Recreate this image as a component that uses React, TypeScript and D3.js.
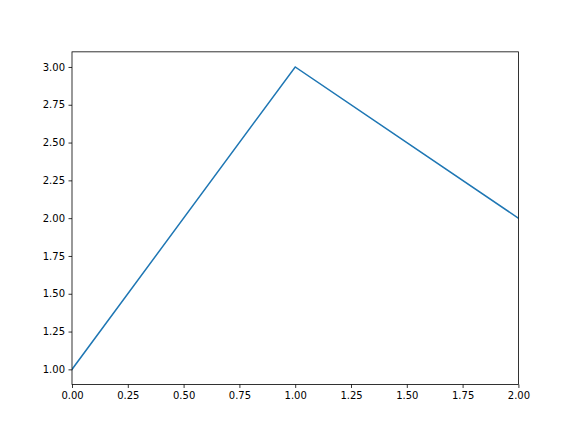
import { useEffect, useRef } from 'react'
import * as d3 from 'd3'

// data
const xValues = [0, 1, 2]
const yValues = [1, 3, 2]
const xTicks = [0, 0.25, 0.5, 0.75, 1, 1.25, 1.5, 1.75, 2]
const yTicks = [1, 1.25, 1.5, 1.75, 2, 2.25, 2.5, 2.75, 3]

export default function App() {
  const svgRef = useRef<SVGSVGElement>(null)

  useEffect(() => {
    if (!svgRef.current) return
    const svg = d3.select(svgRef.current)
    svg.selectAll('*').remove()

    const width = 576
    const height = 432
    const margin = { top: 51.84, right: 57.6, bottom: 47.52, left: 72 }
    const innerWidth = width - margin.left - margin.right
    const innerHeight = height - margin.top - margin.bottom

    svg.append('rect')
      .attr('width', width)
      .attr('height', height)
      .attr('fill', '#ffffff')

    const g = svg.append('g')
      .attr('transform', `translate(${margin.left},${margin.top})`)

    const xScale = d3.scaleLinear().domain([0, 2]).range([0, innerWidth])
    const yScale = d3.scaleLinear().domain([0.9, 3.1]).range([innerHeight, 0])

    const font = 'DejaVu Sans, sans-serif'

    // line
    const points = xValues.map((x, i) => [x, yValues[i]] as [number, number])
    const line = d3.line<[number, number]>()
      .x(d => xScale(d[0]))
      .y(d => yScale(d[1]))

    g.append('clipPath').attr('id', 'plotClip')
      .append('rect').attr('width', innerWidth).attr('height', innerHeight)

    g.append('path')
      .datum(points)
      .attr('d', line)
      .attr('fill', 'none')
      .attr('stroke', '#1f77b4')
      .attr('stroke-width', 1.5)
      .attr('stroke-linecap', 'square')
      .attr('clip-path', 'url(#plotClip)')

    // axes
    const xAxis = d3.axisBottom(xScale)
      .tickValues(xTicks)
      .tickSize(3.5)
      .tickPadding(3.5)
      .tickFormat(d3.format('.2f') as any)

    const yAxis = d3.axisLeft(yScale)
      .tickValues(yTicks)
      .tickSize(3.5)
      .tickPadding(3.5)
      .tickFormat(d3.format('.2f') as any)

    const styleAxis = (sel: any) => {
      sel.select('.domain').remove()
      sel.selectAll('.tick line').attr('stroke', '#000').attr('stroke-width', 0.8)
      sel.selectAll('.tick text')
        .attr('fill', '#000')
        .attr('font-family', font)
        .attr('font-size', '10px')
    }

    g.append('g')
      .attr('transform', `translate(0,${innerHeight})`)
      .call(xAxis)
      .call(styleAxis)

    g.append('g')
      .call(yAxis)
      .call(styleAxis)

    // frame
    g.append('rect')
      .attr('width', innerWidth)
      .attr('height', innerHeight)
      .attr('fill', 'none')
      .attr('stroke', '#000')
      .attr('stroke-width', 0.8)
  }, [])

  return (
    <svg
      ref={svgRef}
      width={576}
      height={432}
      style={{ position: 'absolute', left: 0, top: 0 }}
    />
  )
}
